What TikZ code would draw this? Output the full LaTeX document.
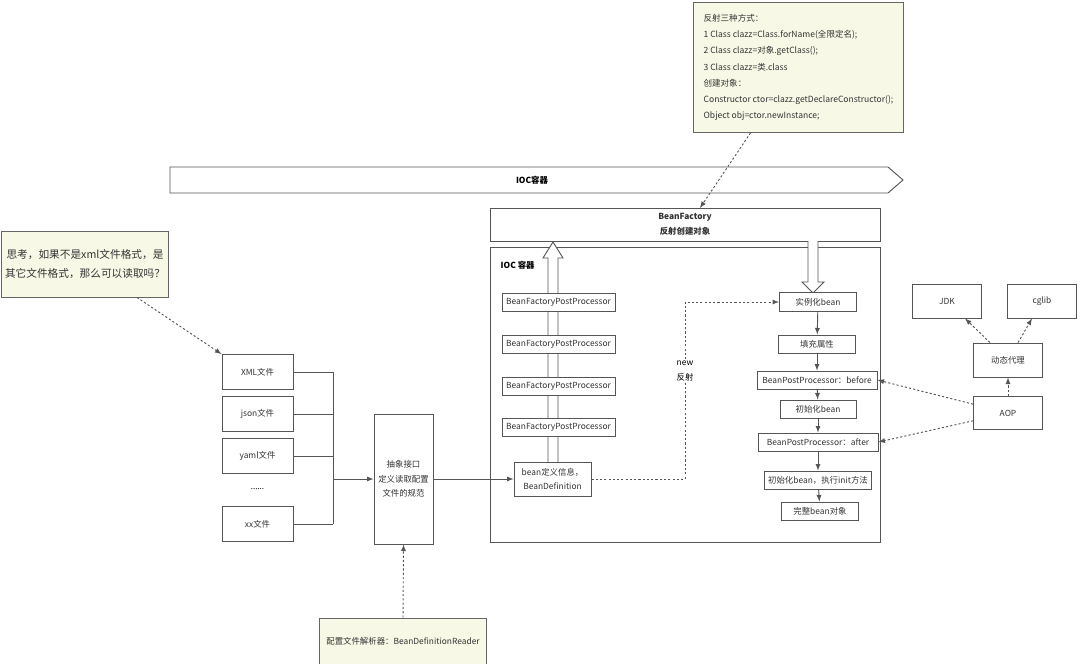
\documentclass[tikz,border=0pt]{standalone}
\usepackage{fontspec}
\setmainfont{Noto Sans CJK SC}
\usetikzlibrary{positioning}
\definecolor{notefill}{HTML}{F7F9E6}
\definecolor{edge}{HTML}{555555}
\tikzset{
  bx/.style 2 args={draw=edge, line width=0.7pt, fill=white, inner sep=1pt,
     minimum width=#1*0.75pt, minimum height=#2*0.75pt, align=center,
     font=\fontsize{6.3}{11}\selectfont, text=black!80},
  note/.style={bx={#1}{10}, fill=notefill, draw=black!60},
  ln/.style={draw=edge, line width=0.7pt},
  arr/.style={ln, -latex},
  dsh/.style={draw=edge, line width=0.7pt, dash pattern=on 1.6pt off 1.6pt, -latex},
  hollow/.style={draw=edge, line width=0.7pt, fill=white}
}
\begin{document}
\begin{tikzpicture}[x=0.75pt, y=-0.75pt]
   \useasboundingbox (0,0) rectangle (1080,663);
   % notes
   \node[note=210, minimum height=130*0.75pt, align=left, anchor=north west,
         font=\fontsize{6.4}{12.1}\selectfont] (refl) at (693,2) {%
      反射三种方式：\\
      1 Class clazz=Class.forName(全限定名);\\
      2 Class clazz=对象.getClass();\\
      3 Class clazz=类.class\\
      创建对象：\\
      Constructor ctor=clazz.getDeclareConstructor();\\
      Object obj=ctor.newInstance;};
   \node[note=167, minimum height=66*0.75pt, font=\fontsize{8}{14}\selectfont] (think) at (85,264)
      {思考，如果不是xml文件格式，是\\其它文件格式，那么可以读取吗？};
   \node[note=167, minimum height=46*0.75pt] (reader) at (403,641) {配置文件解析器：BeanDefinitionReader};
   % banner
   \draw[ln] (170,167) -- (888,167) -- (903,180) -- (888,193) -- (170,193) -- cycle;
   \node[font=\fontsize{6.3}{8}\selectfont\bfseries] (ioc) at (532,180) {IOC容器};
   % containers
   \node[bx={390}{33}, font=\fontsize{6.3}{11}\selectfont\bfseries] (bf) at (685,224.5) {BeanFactory\\反射创建对象};
   \node[bx={390}{295}] (box) at (685,394.5) {};
   \node[font=\fontsize{6.3}{8}\selectfont\bfseries, anchor=west] (boxlbl) at (496,265) {IOC 容器};
   % hollow arrows
   \draw[hollow] (548,463) -- (548,258) -- (543,258) -- (553,242) -- (563,258) -- (558,258) -- (558,463);
   \draw[hollow] (808,241) -- (808,282) -- (802,282) -- (813,293) -- (824,282) -- (818,282) -- (818,241);
   % left column
   \foreach \n/\y in {p1/302, p2/344, p3/386, p4/427} {
      \node[bx={113}{18}] (\n) at (558.5,\y) {BeanFactoryPostProcessor};
   }
   \node[bx={77}{34}] (def) at (552.5,479) {bean定义信息，\\BeanDefinition};
   % right column
   \node[bx={77}{19}] (r1) at (818,302) {实例化bean};
   \node[bx={77}{18}] (r2) at (817,344) {填充属性};
   \node[bx={120}{18}] (r3) at (817,380) {BeanPostProcessor：before};
   \node[bx={76}{18}] (r4) at (818,409) {初始化bean};
   \node[bx={120}{18}] (r5) at (818,442) {BeanPostProcessor：after};
   \node[bx={107}{18}] (r6) at (818,480) {初始化bean，执行init方法};
   \node[bx={77}{18}] (r7) at (820,511) {完整bean对象};
   \foreach \a/\b in {r1/r2, r2/r3, r3/r4, r4/r5, r5/r6, r6/r7} {
      \draw[arr] (\a) -- (\b);
   }
   \draw[dsh] (def.east) -| (685,302) -- (r1.west);
   \node[fill=white, font=\fontsize{6.3}{11}\selectfont, align=center, inner sep=1pt] (newlbl) at (685,371) {new\\反射};
   % files
   \foreach \n/\y/\t in {f1/372/XML文件, f2/414/json文件, f3/456/yaml文件, f4/524/xx文件} {
      \node[bx={71}{35}] (\n) at (257.5,\y) {\t};
      \draw[ln] (\n.east) -- (333,\y);
   }
   \node[font=\fontsize{6}{8}\selectfont] (dots) at (257.5,489) {......};
   \draw[ln] (333,372) -- (333,524);
   \node[bx={59}{130}] (abs) at (403.5,479) {抽象接口\\定义读取配置\\文件的规范};
   \coordinate (bus) at (333,479);
   \draw[arr] (bus) -- (abs.west);
   \draw[arr] (abs.east) -- (def.west);
   \draw[dsh] (reader.north) -- (abs.south);
   \draw[dsh] (think.south east) ++(-32,0) coordinate (ts) -- (f1.north west);
   \draw[dsh] (refl.south) ++(-48,0) coordinate (rs) -- (700,208);
   % aop
   \node[bx={69}{33}] (aop) at (1008,413) {AOP};
   \node[bx={69}{34}] (proxy) at (1008,360) {动态代理};
   \node[bx={69}{34}] (jdk) at (947,301) {JDK};
   \node[bx={69}{34}] (cglib) at (1042,301) {cglib};
   \draw[dsh] (aop) -- (proxy);
   \draw[dsh] (proxy) -- (jdk);
   \draw[dsh] (proxy) -- (cglib);
   \draw[dsh] (aop) -- (r3.east);
   \draw[dsh] (aop) -- (r5.east);
\end{tikzpicture}
\end{document}
